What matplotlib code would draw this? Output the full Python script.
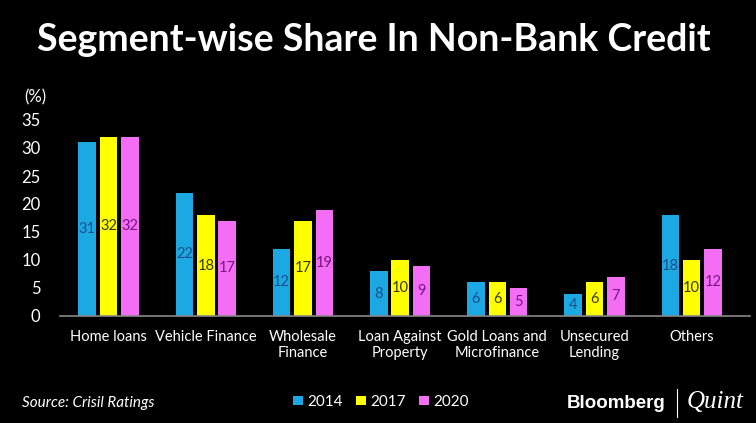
import numpy as np
import matplotlib.pyplot as plt

categories = ['Home loans', 'Vehicle Finance', 'Wholesale\nFinance', 'Loan Against\nProperty',
              'Gold Loans and\nMicrofinance', 'Unsecured\nLending', 'Others']
years = ['2014', '2017', '2020']
s2014 = [31, 22, 12, 8, 6, 4, 18]
s2017 = [32, 18, 17, 10, 6, 6, 10]
s2020 = [32, 17, 19, 9, 5, 7, 12]

bar_colors = ['#1ba8e3', '#ffff00', '#f46ef5']
label_colors = ['#1a4f8a', '#3a3a00', '#7b1487']

plt.rcParams['font.family'] = ['Lato', 'DejaVu Sans']

fig = plt.figure(figsize=(7.56, 4.23), dpi=100, facecolor='black')
ax = fig.add_axes([60/756, 1-316/423, 690/756, 196/423])
ax.set_facecolor('black')

x = np.arange(len(categories))
w = 0.18
gap = 0.22
for i, (vals, c, lc, yr) in enumerate(zip([s2014, s2017, s2020], bar_colors, label_colors, years)):
    pos = x + (i - 1) * gap
    ax.bar(pos, vals, width=w, color=c, label=yr)
    for p, v in zip(pos, vals):
        ax.text(p, v / 2, str(v), ha='center', va='center', color=lc, fontsize=10.5)

ax.set_xlim(-0.5, 6.6)
ax.set_ylim(0, 35)
ax.set_yticks(range(0, 36, 5))
ax.set_xticks(x)
ax.set_xticklabels(categories, color='white', fontsize=10.5, linespacing=1.15)
ax.tick_params(axis='y', colors='white', labelsize=12, length=0, pad=14)
ax.tick_params(axis='x', length=0, pad=10)
for s in ['top', 'right', 'left']:
    ax.spines[s].set_visible(False)
ax.spines['bottom'].set_color('#888888')
ax.spines['bottom'].set_linewidth(1.2)

fig.text(37/756, 1-40/423, 'Segment-wise Share In Non-Bank Credit', color='white',
         fontsize=27, fontweight='bold', va='center', ha='left')
fig.text(24/756, 1-97/423, '(%)', color='white', fontsize=12, va='center')

leg = fig.legend(loc='center', bbox_to_anchor=(381/756, 1-402/423), ncol=3, frameon=False,
                 fontsize=11, handlelength=0.6, handleheight=0.6, handletextpad=0.3,
                 columnspacing=0.9)
for t in leg.get_texts():
    t.set_color('white')

fig.text(22/756, 1-403/423, 'Source: Crisil Ratings', color='white', fontsize=11,
         style='italic', va='center')
fig.text(666/756, 1-403/423, 'Bloomberg', color='white', fontsize=13.5, fontweight='bold',
         va='center', ha='right', family=['Liberation Sans', 'DejaVu Sans'])
fig.add_artist(plt.Line2D([677/756, 677/756], [1-389/423, 1-417/423], color='white', lw=0.8))
fig.text(687/756, 1-402/423, 'Quint', color='white', fontsize=18, style='italic',
         va='center', ha='left', family=['Liberation Serif', 'DejaVu Serif'])

fig.savefig('out.png', dpi=100, facecolor='black')
